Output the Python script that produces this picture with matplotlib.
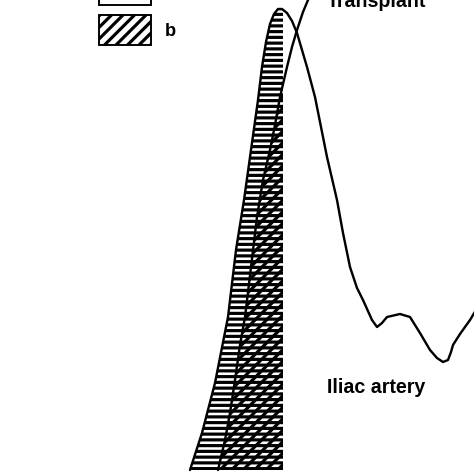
import matplotlib
matplotlib.use("Agg")
import matplotlib.pyplot as plt
from matplotlib.patches import Rectangle

# Iliac artery waveform (time, velocity)
iliac_t = [190, 202, 215, 228, 236, 244, 251, 258, 262, 266, 270, 274, 278, 282, 287,
           292, 297, 307, 315, 327, 337, 343, 350, 357, 363, 372, 377, 382, 387, 400,
           410, 420, 430, 437, 443, 448, 451, 453, 460, 470, 476]
iliac_v = [0, 37, 87, 153, 220, 270, 320, 370, 403, 428, 446, 456, 461, 461, 457,
           449, 437, 403, 373, 313, 270, 237, 203, 182, 170, 150, 143, 147, 153, 156,
           153, 137, 120, 112, 108, 110, 118, 125, 136, 150, 160]

# Transplant waveform rising edge
transplant_t = [218, 225, 230, 235, 240, 245, 251, 257, 263, 270, 275, 280, 287, 292,
                297, 303, 308, 314]
transplant_v = [0, 30, 57, 90, 125, 153, 203, 253, 290, 320, 345, 373, 403, 423,
                440, 458, 470, 490]

cutoff_t = 283  # end of the integrated (hatched) interval

DPI = 69
plt.rcParams["hatch.linewidth"] = 3.3
fig = plt.figure(figsize=(474 / DPI, 474 / DPI), dpi=DPI)
ax = fig.add_axes([0, 0, 1, 1])
ax.set_xlim(0, 474)
ax.set_ylim(-4, 470)
ax.axis("off")

clip_a = Rectangle((0, -50), cutoff_t, 600, transform=ax.transData)
clip_b = Rectangle((0, -50), cutoff_t, 600, transform=ax.transData)

fa = ax.fill_between(iliac_t, iliac_v, 0, facecolor="white", edgecolor="black",
                     linewidth=0, hatch="--", zorder=1)
fa.set_clip_path(clip_a)

fb = ax.fill_between(transplant_t, transplant_v, 0, facecolor="none", edgecolor="black",
                     linewidth=0, hatch="//", zorder=2)
fb.set_clip_path(clip_b)

ax.plot(iliac_t, iliac_v, color="black", lw=2.5, zorder=3,
        solid_capstyle="round", solid_joinstyle="round")
ax.plot(transplant_t, transplant_v, color="black", lw=2.5, zorder=3,
        solid_capstyle="round", solid_joinstyle="round")

font = dict(family=["Liberation Sans", "DejaVu Sans"], fontweight="bold")
ax.text(327, 463, "Transplant", fontsize=20.5, ha="left", va="baseline", **font)
ax.text(327, 77, "Iliac artery", fontsize=20.5, ha="left", va="baseline", **font)

# legend boxes
ax.add_patch(Rectangle((99, 465), 52, 30, facecolor="white", edgecolor="black", lw=2.0))
ax.add_patch(Rectangle((99, 425), 52, 30, facecolor="white", edgecolor="black", lw=2.0,
                       hatch="//"))
ax.text(165, 474, "a", fontsize=19, ha="left", va="baseline", **font)
ax.text(165, 434, "b", fontsize=19, ha="left", va="baseline", **font)

fig.savefig("out.png", dpi=DPI)
